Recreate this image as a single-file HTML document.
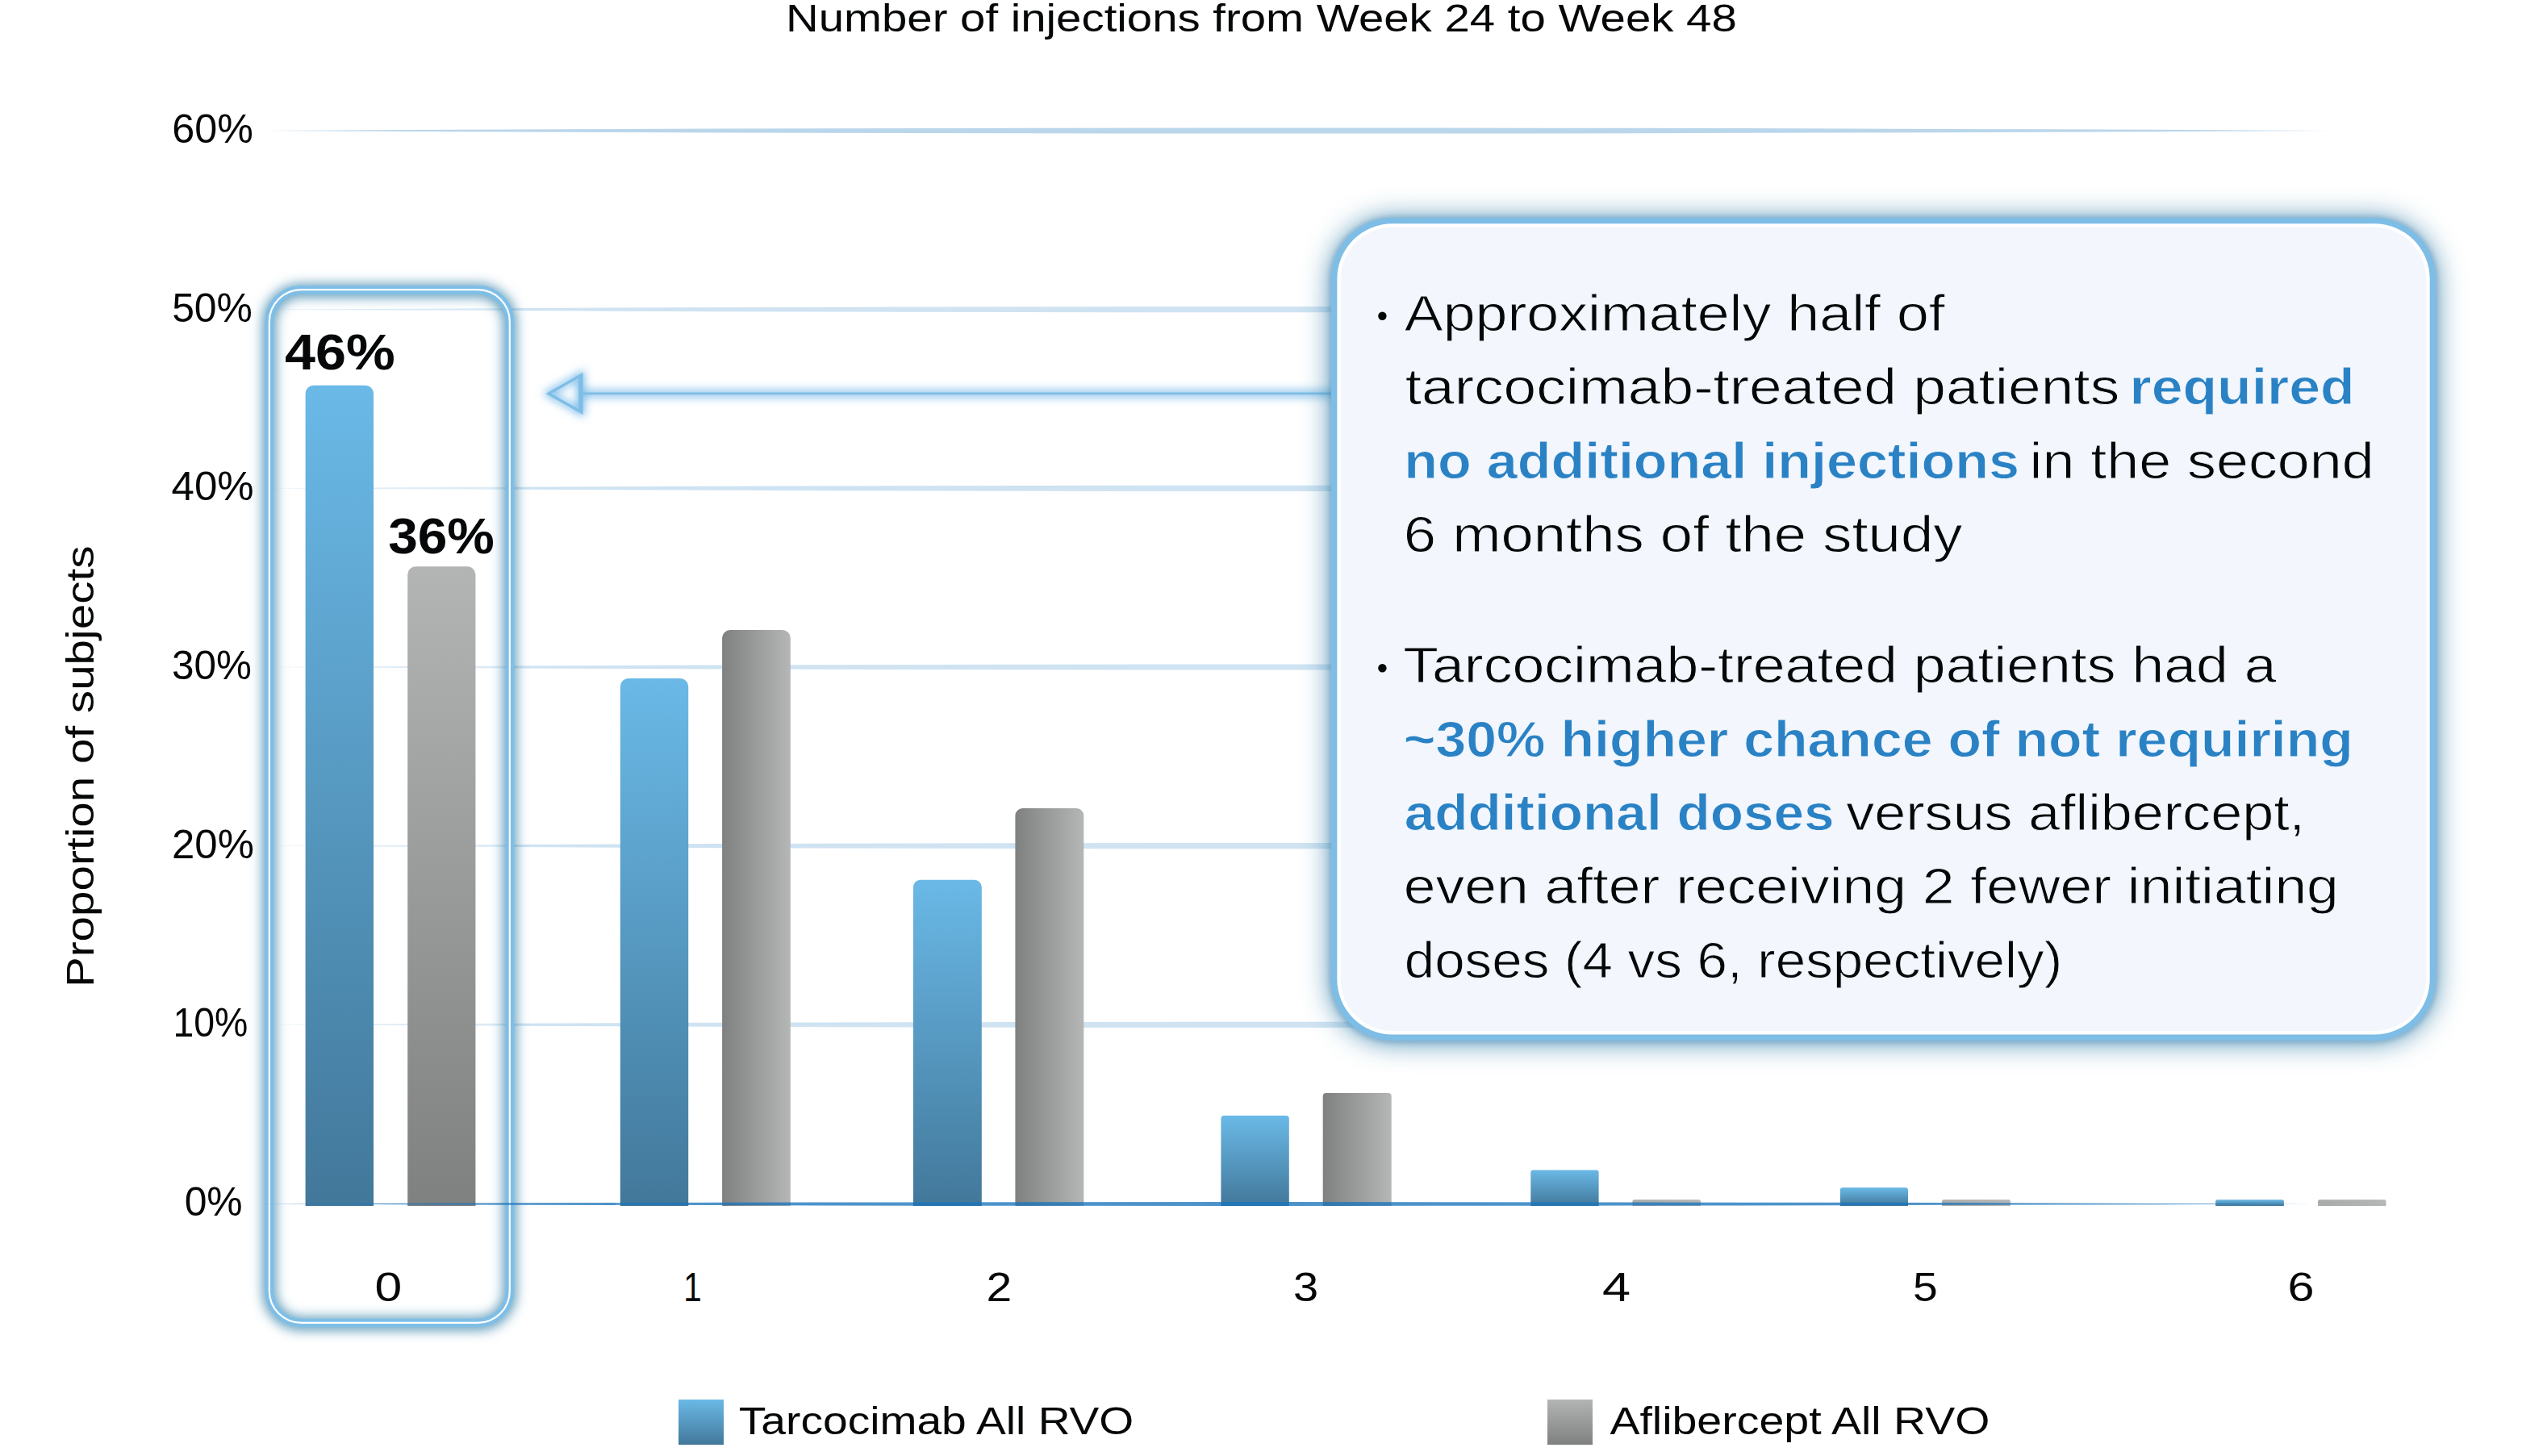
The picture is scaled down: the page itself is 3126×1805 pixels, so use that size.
<!DOCTYPE html>
<html lang="en"><head><meta charset="utf-8"><title>Number of injections from Week 24 to Week 48</title>
<style>html,body{margin:0;padding:0;background:#fff}body{width:3126px;height:1805px;overflow:hidden;position:relative}svg{position:absolute;left:0;top:0;display:block}text{font-family:"Liberation Sans",Arial,Helvetica,sans-serif;fill:#050708}.n{stroke:#f3f7fd;stroke-width:.9px}.b{font-weight:700}.bl{fill:#2a82c5;font-weight:700;stroke:#f3f7fd;stroke-width:.9px}</style></head><body>
<svg width="3126" height="1805" viewBox="0 0 3126 1805">
<defs>
<linearGradient id="gb" x1="0" y1="0" x2="0" y2="1"><stop offset="0" stop-color="#6ab9e7"/><stop offset="1" stop-color="#42789a"/></linearGradient>
<linearGradient id="gg" x1="0" y1="0" x2="1" y2="0"><stop offset="0" stop-color="#7f8181"/><stop offset="1" stop-color="#b5b6b6"/></linearGradient>
<linearGradient id="gl" x1="0" y1="0" x2="1" y2="0"><stop offset="0" stop-color="#a9aaaa"/><stop offset="1" stop-color="#b5b6b6"/></linearGradient>
<linearGradient id="gv" x1="0" y1="0" x2="0" y2="1"><stop offset="0" stop-color="#b3b4b4"/><stop offset="1" stop-color="#7f8080"/></linearGradient>
<filter id="f5" x="-20%" y="-20%" width="140%" height="140%"><feGaussianBlur stdDeviation="5"/></filter>
<filter id="f7" x="-20%" y="-20%" width="140%" height="140%"><feGaussianBlur stdDeviation="7.2"/></filter>
<filter id="f4" filterUnits="userSpaceOnUse" x="600" y="420" width="1200" height="140"><feGaussianBlur stdDeviation="5.5"/></filter>
<filter id="f16" x="-10%" y="-10%" width="120%" height="120%"><feGaussianBlur stdDeviation="17"/></filter>
<filter id="f3" x="-5%" y="-5%" width="110%" height="110%"><feGaussianBlur stdDeviation="2.5"/></filter>
</defs>
<g id="grid">
<path d="M324 161.98 Q1608 154.78 2892 161.98 Q1608 169.18 324 161.98 Z" fill="#bad6eb" fill-opacity="1"/>
<path d="M324 383.65 Q1608 376.45 2892 383.65 Q1608 390.85 324 383.65 Z" fill="#cfe3f2" fill-opacity="1"/>
<path d="M324 605.32 Q1608 598.12 2892 605.32 Q1608 612.52 324 605.32 Z" fill="#cfe3f2" fill-opacity="1"/>
<path d="M324 826.99 Q1608 819.79 2892 826.99 Q1608 834.19 324 826.99 Z" fill="#cfe3f2" fill-opacity="1"/>
<path d="M324 1048.66 Q1608 1041.46 2892 1048.66 Q1608 1055.86 324 1048.66 Z" fill="#cfe3f2" fill-opacity="1"/>
<path d="M324 1270.33 Q1608 1263.13 2892 1270.33 Q1608 1277.53 324 1270.33 Z" fill="#cfe3f2" fill-opacity="1"/>
</g>
<g id="hl">
<rect x="339" y="364.4" width="287.6" height="1270.3" rx="34" fill="#fff" fill-opacity=".28"/>
<rect x="333.75" y="360.15" width="298.1" height="1280.8" rx="39.7" fill="none" stroke="#3f88ae" stroke-width="15" stroke-opacity=".92" filter="url(#f7)"/>
<rect x="333.75" y="359.15" width="298.1" height="1280.8" rx="39.7" fill="none" stroke="#7ebee7" stroke-width="10.5"/>
<rect x="333.8" y="359.2" width="298" height="1280.7" rx="39.7" fill="none" stroke="#fff" stroke-width="2.2"/>
</g>
<g id="bars">
<path d="M378.6 1494.9 V487.8 A10 10 0 0 1 388.6 477.8 H453 A10 10 0 0 1 463 487.8 V1494.9 Z" fill="url(#gb)"/>
<path d="M505.2 1494.9 V712.3 A10 10 0 0 1 515.2 702.3 H579.4 A10 10 0 0 1 589.4 712.3 V1494.9 Z" fill="url(#gv)"/>
<path d="M768.8 1494.9 V851 A10 10 0 0 1 778.8 841 H843.2 A10 10 0 0 1 853.2 851 V1494.9 Z" fill="url(#gb)"/>
<path d="M895.1 1494.9 V791.1 A10 10 0 0 1 905.1 781.1 H969.8 A10 10 0 0 1 979.8 791.1 V1494.9 Z" fill="url(#gg)"/>
<path d="M1131.9 1494.9 V1099.8 A9 9 0 0 1 1140.9 1090.8 H1207.8 A9 9 0 0 1 1216.8 1099.8 V1494.9 Z" fill="url(#gb)"/>
<path d="M1258.4 1494.9 V1011 A9 9 0 0 1 1267.4 1002 H1334.3 A9 9 0 0 1 1343.3 1011 V1494.9 Z" fill="url(#gg)"/>
<path d="M1513.4 1494.9 V1387.1 A4 4 0 0 1 1517.4 1383.1 H1593.8 A4 4 0 0 1 1597.8 1387.1 V1494.9 Z" fill="url(#gb)"/>
<path d="M1639.7 1494.9 V1358.9 A4 4 0 0 1 1643.7 1354.9 H1720.7 A4 4 0 0 1 1724.7 1358.9 V1494.9 Z" fill="url(#gg)"/>
<path d="M1897.3 1494.9 V1453.4 A3 3 0 0 1 1900.3 1450.4 H1978.6 A3 3 0 0 1 1981.6 1453.4 V1494.9 Z" fill="url(#gb)"/>
<path d="M2023.5 1494.9 V1489.2 A2 2 0 0 1 2025.5 1487.2 H2105.9 A2 2 0 0 1 2107.9 1489.2 V1494.9 Z" fill="url(#gl)"/>
<path d="M2280.9 1494.9 V1475.2 A3 3 0 0 1 2283.9 1472.2 H2362 A3 3 0 0 1 2365 1475.2 V1494.9 Z" fill="url(#gb)"/>
<path d="M2407.1 1494.9 V1489.2 A2 2 0 0 1 2409.1 1487.2 H2489.8 A2 2 0 0 1 2491.8 1489.2 V1494.9 Z" fill="url(#gl)"/>
<path d="M2746.2 1494.9 V1489.2 A2 2 0 0 1 2748.2 1487.2 H2828.9 A2 2 0 0 1 2830.9 1489.2 V1494.9 Z" fill="url(#gb)"/>
<path d="M2873.1 1494.9 V1489.2 A2 2 0 0 1 2875.1 1487.2 H2955.5 A2 2 0 0 1 2957.5 1489.2 V1494.9 Z" fill="url(#gl)"/>
</g>
<path d="M323 1492.5 Q1594.5 1487.7 2866 1492.5 Q1594.5 1497.3 323 1492.5 Z" fill="#1b75bb" fill-opacity="0.78"/>
<g id="arrow">
<g filter="url(#f4)"><path d="M723 487.9 H1660" stroke="#5aa9e2" stroke-width="9" stroke-opacity=".72" fill="none"/>
<path d="M676.6 487.9 L722.6 461.7 V514.1 Z M683.4 487.9 L717.2 507.2 V468.6 Z" fill="#5aa9e2" fill-opacity=".8" fill-rule="evenodd" stroke="#5aa9e2" stroke-width="4" stroke-opacity=".7" stroke-linejoin="miter"/></g>
<path d="M722 487.9 H1660" stroke="#7dbde6" stroke-width="2.8" fill="none"/>
<path d="M676.6 487.9 L722.6 461.7 V514.1 Z M683.4 487.9 L717.2 507.2 V468.6 Z" fill="#7dbde6" fill-rule="evenodd"/>
</g>
<g id="callout">
<rect x="1650" y="271.4" width="1369" height="1020" rx="76" fill="#3f86ae" fill-opacity=".95" filter="url(#f16)"/>
<rect x="1650" y="270.4" width="1369" height="1020" rx="76" fill="none" stroke="#4a8ab5" stroke-width="6" stroke-opacity=".32" filter="url(#f3)"/>
<rect x="1650" y="269.9" width="1369" height="1020" rx="76" fill="#7dbde6"/>
<rect x="1657.3" y="277.2" width="1354.4" height="1005.4" rx="68.7" fill="#fff"/>
<rect x="1661.7" y="281.6" width="1345.6" height="996.6" rx="64.3" fill="#f3f7fd"/>
</g>
<g id="txt">
<text id="t0" x="973.97" y="39" font-size="48" textLength="1178.84" lengthAdjust="spacingAndGlyphs">Number of injections from Week 24 to Week 48</text>
<text id="t1" x="213.31" y="176.98" font-size="50" textLength="100.57" lengthAdjust="spacingAndGlyphs">60%</text>
<text id="t2" x="213.13" y="398.65" font-size="50" textLength="99.77" lengthAdjust="spacingAndGlyphs">50%</text>
<text id="t3" x="212.56" y="620.32" font-size="50" textLength="102.11" lengthAdjust="spacingAndGlyphs">40%</text>
<text id="t4" x="213.12" y="841.99" font-size="50" textLength="98.95" lengthAdjust="spacingAndGlyphs">30%</text>
<text id="t5" x="213.07" y="1063.66" font-size="50" textLength="101.84" lengthAdjust="spacingAndGlyphs">20%</text>
<text id="t6" x="214.38" y="1285.33" font-size="50" textLength="92.91" lengthAdjust="spacingAndGlyphs">10%</text>
<text id="t7" x="228.65" y="1507" font-size="50" textLength="72.06" lengthAdjust="spacingAndGlyphs">0%</text>
<text id="t8" x="464.64" y="1612.8" font-size="50.5" textLength="33.72" lengthAdjust="spacingAndGlyphs">0</text>
<text id="t9" x="847.36" y="1612.8" font-size="50.5" textLength="22.45" lengthAdjust="spacingAndGlyphs">1</text>
<text id="t10" x="1222.59" y="1612.8" font-size="50.5" textLength="31.75" lengthAdjust="spacingAndGlyphs">2</text>
<text id="t11" x="1603.03" y="1612.8" font-size="50.5" textLength="31.16" lengthAdjust="spacingAndGlyphs">3</text>
<text id="t12" x="1985.98" y="1612.8" font-size="50.5" textLength="35.08" lengthAdjust="spacingAndGlyphs">4</text>
<text id="t13" x="2371.02" y="1612.8" font-size="50.5" textLength="30.73" lengthAdjust="spacingAndGlyphs">5</text>
<text id="t14" x="2835.63" y="1612.8" font-size="50.5" textLength="33.00" lengthAdjust="spacingAndGlyphs">6</text>
<text id="t15" x="352.98" y="458.3" font-size="62.5" textLength="136.67" lengthAdjust="spacingAndGlyphs" class="b">46%</text>
<text id="t16" x="481.15" y="685.8" font-size="62.5" textLength="131.69" lengthAdjust="spacingAndGlyphs" class="b">36%</text>
<rect x="841" y="1735" width="56" height="56" fill="url(#gb)"/>
<rect x="1918" y="1735" width="56" height="56" fill="url(#gv)"/>
<text id="t17" x="915.79" y="1777.8" font-size="48" textLength="489.43" lengthAdjust="spacingAndGlyphs">Tarcocimab All RVO</text>
<text id="t18" x="1995.40" y="1777.8" font-size="48" textLength="471.02" lengthAdjust="spacingAndGlyphs">Aflibercept All RVO</text>
<text transform="translate(116 1224) rotate(-90)" x="0" y="0" font-size="48" textLength="547.5" lengthAdjust="spacingAndGlyphs">Proportion of subjects</text>
<circle cx="1713.4" cy="391.8" r="5.2" fill="#050708"/>
<circle cx="1713.4" cy="828.2" r="5.2" fill="#050708"/>
<text id="t19" x="1740.79" y="409.6" font-size="63" textLength="670.01" lengthAdjust="spacingAndGlyphs" class="n">Approximately half of</text>
<text id="t20" x="1741.79" y="501.1" font-size="63" textLength="885.43" lengthAdjust="spacingAndGlyphs" class="n">tarcocimab-treated patients</text>
<text id="t21" x="2639.62" y="501.1" font-size="63" textLength="278.98" lengthAdjust="spacingAndGlyphs" class="bl">required</text>
<text id="t22" x="1740.34" y="592.6" font-size="63" textLength="762.70" lengthAdjust="spacingAndGlyphs" class="bl">no additional injections</text>
<text id="t23" x="2515.46" y="592.6" font-size="63" textLength="427.25" lengthAdjust="spacingAndGlyphs" class="n">in the second</text>
<text id="t24" x="1739.77" y="684" font-size="63" textLength="692.64" lengthAdjust="spacingAndGlyphs" class="n">6 months of the study</text>
<text id="t25" x="1739.19" y="846" font-size="63" textLength="1082.41" lengthAdjust="spacingAndGlyphs" class="n">Tarcocimab-treated patients had a</text>
<text id="t26" x="1739.77" y="937.5" font-size="63" textLength="1177.07" lengthAdjust="spacingAndGlyphs" class="bl">~30% higher chance of not requiring</text>
<text id="t27" x="1740.77" y="1028.8" font-size="63" textLength="532.88" lengthAdjust="spacingAndGlyphs" class="bl">additional doses</text>
<text id="t28" x="2288.19" y="1028.8" font-size="63" textLength="568.90" lengthAdjust="spacingAndGlyphs" class="n">versus aflibercept,</text>
<text id="t29" x="1739.77" y="1120.2" font-size="63" textLength="1159.07" lengthAdjust="spacingAndGlyphs" class="n">even after receiving 2 fewer initiating</text>
<text id="t30" x="1740.77" y="1211.6" font-size="63" textLength="815.28" lengthAdjust="spacingAndGlyphs" class="n">doses (4 vs 6, respectively)</text>
</g>
</svg></body></html>
